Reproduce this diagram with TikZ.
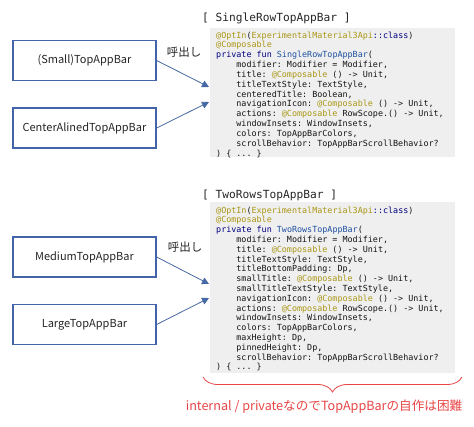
\documentclass[tikz,border=0pt]{standalone}
\usepackage{fontspec}
\setmainfont{Liberation Sans}
\setmonofont{DejaVu Sans Mono}
\newfontfamily\jpfont{Noto Sans CJK JP}
\usetikzlibrary{arrows.meta,decorations.pathreplacing}
\definecolor{boxblue}{RGB}{68,100,170}
\definecolor{arrblue}{RGB}{70,105,165}
\definecolor{codebg}{RGB}{239,239,239}
\definecolor{annc}{RGB}{170,150,20}
\definecolor{kwc}{RGB}{0,0,128}
\definecolor{fnc}{RGB}{30,80,160}
\definecolor{codetext}{RGB}{20,20,20}
\definecolor{redc}{RGB}{232,70,70}
\newcommand\cAnn[1]{\textcolor{annc}{#1}}
\newcommand\cKw[1]{\textcolor{kwc}{#1}}
\newcommand\cFn[1]{\textcolor{fnc}{#1}}
\tikzset{
  lbox/.style={draw=boxblue, line width=1.3pt, minimum width=143pt, minimum height=40pt, inner sep=0pt, font=\jpfont\fontsize{11}{13}\selectfont, text=black!85},
  arr/.style={draw=arrblue, line width=0.8pt, -{Triangle[length=7pt,width=7pt]}},
  codebox/.style={fill=codebg, inner sep=0pt, anchor=north west, minimum width=245pt},
  codeln/.style={anchor=base west, inner sep=0pt, text=codetext, font=\ttfamily\fontsize{8.4}{9.8}\selectfont},
  ttitle/.style={anchor=west, inner sep=0pt, font=\ttfamily\fontsize{11.2}{13}\selectfont, text=black!85},
  callout/.style={inner sep=0pt, font=\jpfont\fontsize{11.5}{13}\selectfont, text=black!85},
  bracestyle/.style={draw=redc, line width=0.8pt, decorate, decoration={brace, mirror, amplitude=15pt}},
  notestyle/.style={inner sep=0pt, font=\jpfont\fontsize{12.6}{14}\selectfont, text=redc}
}
\begin{document}
\begin{tikzpicture}[x=1pt,y=-1pt]
\useasboundingbox[fill=white] (0,0) rectangle (474,426);

% code backgrounds
\node[codebox, minimum height=129pt] (c1) at (210,28) {};
\node[codebox, minimum height=171pt] (c2) at (210,202) {};

% titles
\node[ttitle] (h1) at (202,18) {[ SingleRowTopAppBar ]};
\node[ttitle] (h2) at (202,195) {[ TwoRowsTopAppBar ]};

% code block 1
\node[codeln] (a01) at (216,38.0) {\cAnn{@OptIn}(\cAnn{ExperimentalMaterial3Api}\cKw{::class})};
\node[codeln] (a02) at (216,47.8) {\cAnn{@Composable}};
\node[codeln] (a03) at (216,57.7) {\cKw{private fun} \cFn{SingleRowTopAppBar}(};
\node[codeln] (a04) at (236.2,67.5) {modifier: Modifier = Modifier,};
\node[codeln] (a05) at (236.2,77.3) {title: \cAnn{@Composable} () -> Unit,};
\node[codeln] (a06) at (236.2,87.2) {titleTextStyle: TextStyle,};
\node[codeln] (a07) at (236.2,97.0) {centeredTitle: Boolean,};
\node[codeln] (a08) at (236.2,106.8) {navigationIcon: \cAnn{@Composable} () -> Unit,};
\node[codeln] (a09) at (236.2,116.6) {actions: \cAnn{@Composable} RowScope.() -> Unit,};
\node[codeln] (a10) at (236.2,126.5) {windowInsets: WindowInsets,};
\node[codeln] (a11) at (236.2,136.3) {colors: TopAppBarColors,};
\node[codeln] (a12) at (236.2,146.1) {scrollBehavior: TopAppBarScrollBehavior?};
\node[codeln] (a13) at (216,156.0) {) \{ ... \}};

% code block 2
\node[codeln] (d01) at (216,213.0) {\cAnn{@OptIn}(\cAnn{ExperimentalMaterial3Api}\cKw{::class})};
\node[codeln] (d02) at (216,222.8) {\cAnn{@Composable}};
\node[codeln] (d03) at (216,232.6) {\cKw{private fun} \cFn{TwoRowsTopAppBar}(};
\node[codeln] (d04) at (236.2,242.4) {modifier: Modifier = Modifier,};
\node[codeln] (d05) at (236.2,252.2) {title: \cAnn{@Composable} () -> Unit,};
\node[codeln] (d06) at (236.2,262.0) {titleTextStyle: TextStyle,};
\node[codeln] (d07) at (236.2,271.8) {titleBottomPadding: Dp,};
\node[codeln] (d08) at (236.2,281.6) {smallTitle: \cAnn{@Composable} () -> Unit,};
\node[codeln] (d09) at (236.2,291.4) {smallTitleTextStyle: TextStyle,};
\node[codeln] (d10) at (236.2,301.2) {navigationIcon: \cAnn{@Composable} () -> Unit,};
\node[codeln] (d11) at (236.2,311.0) {actions: \cAnn{@Composable} RowScope.() -> Unit,};
\node[codeln] (d12) at (236.2,320.8) {windowInsets: WindowInsets,};
\node[codeln] (d13) at (236.2,330.6) {colors: TopAppBarColors,};
\node[codeln] (d14) at (236.2,340.4) {maxHeight: Dp,};
\node[codeln] (d15) at (236.2,350.2) {pinnedHeight: Dp,};
\node[codeln] (d16) at (236.2,360.0) {scrollBehavior: TopAppBarScrollBehavior?};
\node[codeln] (d17) at (216,369.8) {) \{ ... \}};

% left boxes
\node[lbox] (b1) at (84.5,60.5) {(Small)TopAppBar};
\node[lbox] (b2) at (84.5,128) {CenterAlinedTopAppBar};
\node[lbox] (b3) at (84.5,257) {MediumTopAppBar};
\node[lbox] (b4) at (84.5,324.5) {LargeTopAppBar};

% callout labels
\node[callout] (k1) at (184,52) {呼出し};
\node[callout] (k2) at (185,247) {呼出し};

% arrow targets
\coordinate (t1) at (209,87);
\coordinate (t2) at (209,102);
\coordinate (t3) at (209,284);
\coordinate (t4) at (209,298);
\draw[arr] (b1.east) -- (t1);
\draw[arr] (b2.east) -- (t2);
\draw[arr] (b3.east) -- (t3);
\draw[arr] (b4.east) -- (t4);

% brace and note
\coordinate (bl) at (203,377);
\coordinate (br) at (462,377);
\draw[bracestyle] (bl) -- (br);
\node[notestyle] (note) at (324,407) {internal / privateなのでTopAppBarの自作は困難};
\end{tikzpicture}
\end{document}
